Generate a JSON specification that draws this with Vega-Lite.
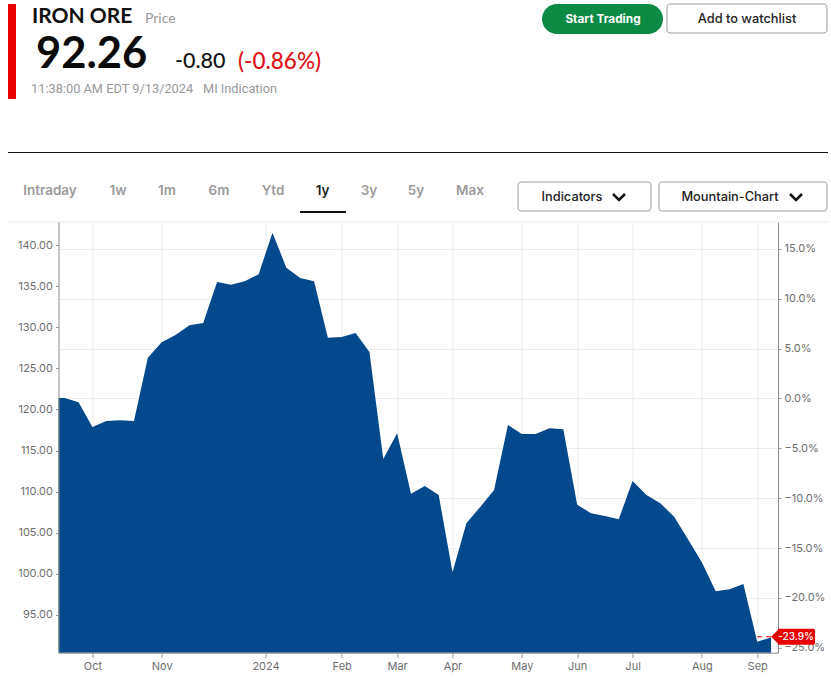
{
  "$schema": "https://vega.github.io/schema/vega-lite/v6.json",
  "description": "Iron ore one year mountain chart with quote header",
  "background": "white",
  "width": 719.5,
  "height": 430.7,
  "autosize": "none",
  "padding": {"left": 58.5, "top": 222, "right": 53, "bottom": 42.3},
  "config": {"view": {"stroke": null}, "text": {"font": "Inter"}},
  "datasets": {
    "prices": [
      {"week": -0.45, "price": 121.39},
      {"week": 0, "price": 121.39},
      {"week": 1, "price": 120.86},
      {"week": 2, "price": 117.86},
      {"week": 3, "price": 118.59},
      {"week": 4, "price": 118.67},
      {"week": 5, "price": 118.59},
      {"week": 6, "price": 126.29},
      {"week": 7, "price": 128.16},
      {"week": 8, "price": 129.05},
      {"week": 9, "price": 130.23},
      {"week": 10, "price": 130.51},
      {"week": 11, "price": 135.5},
      {"week": 12, "price": 135.17},
      {"week": 13, "price": 135.58},
      {"week": 14, "price": 136.44},
      {"week": 15, "price": 141.5},
      {"week": 16, "price": 137.24},
      {"week": 17, "price": 135.99},
      {"week": 18, "price": 135.58},
      {"week": 19, "price": 128.72},
      {"week": 20, "price": 128.81},
      {"week": 21, "price": 129.29},
      {"week": 22, "price": 126.98},
      {"week": 23, "price": 113.97},
      {"week": 24, "price": 117.09},
      {"week": 25, "price": 109.74},
      {"week": 26, "price": 110.68},
      {"week": 27, "price": 109.59},
      {"week": 28, "price": 100.19},
      {"week": 29, "price": 106.14},
      {"week": 30, "price": 108.13},
      {"week": 31, "price": 110.19},
      {"week": 32, "price": 118.1},
      {"week": 33, "price": 117.01},
      {"week": 34, "price": 117.01},
      {"week": 35, "price": 117.7},
      {"week": 36, "price": 117.58},
      {"week": 37, "price": 108.41},
      {"week": 38, "price": 107.36},
      {"week": 39, "price": 107.03},
      {"week": 40, "price": 106.63},
      {"week": 41, "price": 111.29},
      {"week": 42, "price": 109.59},
      {"week": 43, "price": 108.58},
      {"week": 44, "price": 106.95},
      {"week": 45, "price": 104.2},
      {"week": 46, "price": 101.4},
      {"week": 47, "price": 97.88},
      {"week": 48, "price": 98.12},
      {"week": 49, "price": 98.76},
      {"week": 50, "price": 91.74},
      {"week": 51, "price": 92.26}
    ],
    "current": [{"week": 50, "end": 51, "pct": -23.9, "label": "-23.9%"}]
  },
  "layer": [
    {
      "data": {"name": "current"},
      "mark": {"type": "rule", "color": "#e60000", "strokeWidth": 1, "strokeDash": [5, 4]},
      "encoding": {
        "x": {
          "field": "week",
          "type": "quantitative",
          "scale": {"domain": [-0.45, 51.5], "nice": false, "zero": false},
          "axis": {
            "title": null,
            "orient": "bottom",
            "values": [2, 7, 14.5, 20, 24, 28, 33, 37, 41, 46, 50],
            "labelExpr": "{'2':'Oct','7':'Nov','14.5':'2024','20':'Feb','24':'Mar','28':'Apr','33':'May','37':'Jun','41':'Jul','46':'Aug','50':'Sep'}[datum.value]",
            "grid": true,
            "gridColor": "#ececec",
            "domain": false,
            "tickColor": "#999999",
            "tickSize": 5,
            "labelFont": "Inter",
            "labelFontSize": 11,
            "labelColor": "#6e6e6e",
            "labelPadding": 3
          }
        },
        "x2": {"field": "end"},
        "y": {
          "field": "pct",
          "type": "quantitative",
          "scale": {"domain": [-25.5, 17.7], "nice": false, "zero": false},
          "axis": {
            "title": null,
            "orient": "right",
            "values": [-25, -20, -15, -10, -5, 0, 5, 10, 15],
            "labelExpr": "format(datum.value, '.1f') + '%'",
            "grid": true,
            "gridColor": "#ececec",
            "domain": false,
            "tickColor": "#999999",
            "tickSize": 3,
            "labelFont": "Inter",
            "labelFontSize": 11,
            "labelColor": "#6e6e6e",
            "labelPadding": 3
          }
        }
      }
    },
    {
      "data": {"name": "prices"},
      "mark": {"type": "area", "color": "#03498b", "interpolate": "linear"},
      "encoding": {
        "x": {
          "field": "week",
          "type": "quantitative",
          "scale": {"domain": [-0.45, 51.5], "nice": false, "zero": false},
          "axis": {
            "title": null,
            "orient": "top",
            "offset": -430.7,
            "labels": false,
            "ticks": false,
            "grid": false,
            "domain": true,
            "domainColor": "#8a8a8a",
            "zindex": 1
          }
        },
        "y": {
          "field": "price",
          "type": "quantitative",
          "scale": {"domain": [90.4, 142.8], "nice": false, "zero": false},
          "axis": {
            "title": null,
            "orient": "left",
            "values": [95, 100, 105, 110, 115, 120, 125, 130, 135, 140],
            "format": ".2f",
            "grid": false,
            "domain": true,
            "domainColor": "#8a8a8a",
            "tickColor": "#999999",
            "tickSize": 3,
            "labelFont": "Inter",
            "labelFontSize": 11,
            "labelColor": "#6e6e6e",
            "labelPadding": 3,
            "zindex": 1
          }
        },
        "y2": {"datum": 90.4}
      }
    },
    {
      "data": {"name": "current"},
      "encoding": {
        "x": {
          "field": "end",
          "type": "quantitative",
          "scale": {"domain": [-0.45, 51.5], "nice": false, "zero": false},
          "axis": null
        },
        "y": {
          "field": "pct",
          "type": "quantitative",
          "scale": {"domain": [-25.5, 17.7], "nice": false, "zero": false},
          "axis": {
            "title": null,
            "orient": "right",
            "labels": false,
            "ticks": false,
            "grid": false,
            "domain": true,
            "domainColor": "#8a8a8a"
          }
        }
      },
      "layer": [
        {
          "mark": {
            "type": "point",
            "shape": "M0,0L0.3,-0.3L0.34,-0.36L1.95,-0.36L2,-0.3L2,0.3L1.95,0.36L0.34,0.36L0.3,0.3Z",
            "size": 1936,
            "filled": true,
            "opacity": 1,
            "color": "#e60000"
          }
        },
        {
          "mark": {"type": "text", "dx": 25, "color": "white", "fontSize": 10, "fontWeight": 500},
          "encoding": {"text": {"field": "label"}}
        }
      ]
    },
    {
      "encoding": {
        "x": {
          "field": "col",
          "type": "quantitative",
          "axis": null,
          "scale": {
            "nice": false,
            "zero": false,
            "domain": [0, 1, 2, 3, 4, 5, 6, 7, 8, 9, 10, 11, 12, 13, 14, 15, 16, 17, 18, 19, 20, 21, 22, 23, 24, 25, 26, 27, 28, 29, 30, 31, 32, 33],
            "range": [-50.5, -42.5, -27.5, -26.5, -22.5, -8.5, 59.5, 86.5, 108.5, 116.5, 144.5, 160.5, 179.5, 214.5, 241.5, 264, 287.5, 310.5, 357.5, 411.5, 459.5, 483.5, 513.5, 544.5, 560.5, 592.5, 600.5, 604.5, 608.5, 671.5, 688.5, 737.5, 768.5, 769.5]
          }
        },
        "y": {
          "field": "row",
          "type": "quantitative",
          "axis": null,
          "scale": {
            "nice": false,
            "zero": false,
            "domain": [0, 1, 2, 3, 4, 5, 6, 7, 8, 9, 10, 11, 12, 13, 14, 15],
            "range": [-218, -205, -203, -189, -188, -167, -160, -133, -123, -69.5, -40, -31, -25, -11, -10, 0]
          }
        }
      },
      "layer": [
        {
          "data": {"values": [{"item": "accent", "col": 0, "col2": 1, "row": 0, "row2": 8}]},
          "mark": {"type": "rect", "color": "#e60000"},
          "encoding": {"x2": {"field": "col2"}, "y2": {"field": "row2"}}
        },
        {
          "data": {"values": [{"item": "Start Trading", "col": 21, "col2": 27, "row": 0, "row2": 4}]},
          "mark": {"type": "rect", "color": "#0b8a45", "cornerRadius": 15},
          "encoding": {"x2": {"field": "col2"}, "y2": {"field": "row2"}}
        },
        {
          "data": {
            "values": [
              {"item": "Add to watchlist", "col": 28, "col2": 32, "row": 0, "row2": 3},
              {"item": "Indicators", "col": 20, "col2": 25, "row": 10, "row2": 13},
              {"item": "Mountain-Chart", "col": 26, "col2": 32, "row": 10, "row2": 13}
            ]
          },
          "mark": {"type": "rect", "fill": "white", "stroke": "#9a9a9a", "strokeWidth": 1, "cornerRadius": 3},
          "encoding": {"x2": {"field": "col2"}, "y2": {"field": "row2"}}
        },
        {
          "data": {"values": [{"item": "divider", "col": 0, "col2": 33, "row": 9}]},
          "mark": {"type": "rule", "color": "#111111", "strokeWidth": 1},
          "encoding": {"x2": {"field": "col2"}}
        },
        {
          "data": {"values": [{"item": "plot top", "col": 0, "col2": 33, "row": 15}]},
          "mark": {"type": "rule", "color": "#ececec", "strokeWidth": 1},
          "encoding": {"x2": {"field": "col2"}}
        },
        {
          "data": {"values": [{"item": "active tab", "col": 14, "col2": 16, "row": 14}]},
          "mark": {"type": "rule", "color": "#111111", "strokeWidth": 2},
          "encoding": {"x2": {"field": "col2"}}
        },
        {
          "data": {"values": [{"text": "IRON ORE", "col": 3, "row": 1}]},
          "mark": {"type": "text", "align": "left", "font": "Lato", "fontSize": 21, "fontWeight": 700, "color": "#111111"},
          "encoding": {"text": {"field": "text"}}
        },
        {
          "data": {"values": [{"text": "Price", "col": 7, "row": 2}]},
          "mark": {"type": "text", "align": "left", "font": "Lato", "fontSize": 14, "color": "#999999"},
          "encoding": {"text": {"field": "text"}}
        },
        {
          "data": {
            "values": [
              {"text": "11:38:00 AM EDT 9/13/2024", "col": 2, "row": 7},
              {"text": "MI Indication", "col": 10, "row": 7}
            ]
          },
          "mark": {"type": "text", "align": "left", "font": "Roboto", "fontSize": 12.8, "color": "#999999"},
          "encoding": {"text": {"field": "text"}}
        },
        {
          "data": {"values": [{"text": "92.26", "col": 4, "row": 5}]},
          "mark": {"type": "text", "align": "left", "font": "Lato", "fontSize": 43.5, "fontWeight": 700, "color": "#0a0a0a"},
          "encoding": {"text": {"field": "text"}}
        },
        {
          "data": {"values": [{"text": "-0.80", "col": 9, "row": 6}]},
          "mark": {"type": "text", "align": "left", "font": "Lato", "fontSize": 21.5, "fontWeight": 500, "color": "#111111"},
          "encoding": {"text": {"field": "text"}}
        },
        {
          "data": {"values": [{"text": "(-0.86%)", "col": 12, "row": 6}]},
          "mark": {"type": "text", "align": "left", "font": "Lato", "fontSize": 22.5, "fontWeight": 500, "color": "#e0101a"},
          "encoding": {"text": {"field": "text"}}
        },
        {
          "data": {
            "values": [
              {"text": "Intraday", "col": 5, "row": 11},
              {"text": "1w", "col": 6, "row": 11},
              {"text": "1m", "col": 8, "row": 11},
              {"text": "6m", "col": 11, "row": 11},
              {"text": "Ytd", "col": 13, "row": 11},
              {"text": "3y", "col": 17, "row": 11},
              {"text": "5y", "col": 18, "row": 11},
              {"text": "Max", "col": 19, "row": 11}
            ]
          },
          "mark": {"type": "text", "fontSize": 13.5, "fontWeight": 600, "color": "#9b9b9b"},
          "encoding": {"text": {"field": "text"}}
        },
        {
          "data": {"values": [{"text": "1y", "col": 15, "row": 11}]},
          "mark": {"type": "text", "fontSize": 13.5, "fontWeight": 600, "color": "#222222"},
          "encoding": {"text": {"field": "text"}}
        },
        {
          "data": {"values": [{"text": "Start Trading", "col": 23, "row": 2}]},
          "mark": {"type": "text", "fontSize": 11.8, "fontWeight": 700, "color": "white"},
          "encoding": {"text": {"field": "text"}}
        },
        {
          "data": {
            "values": [
              {"text": "Add to watchlist", "col": 30, "row": 2},
              {"text": "Indicators", "col": 22, "row": 12},
              {"text": "Mountain-Chart", "col": 29, "row": 12}
            ]
          },
          "mark": {"type": "text", "fontSize": 12.8, "fontWeight": 500, "color": "#222222"},
          "encoding": {"text": {"field": "text"}}
        },
        {
          "data": {"values": [{"item": "Indicators", "col": 24, "row": 12}, {"item": "Mountain-Chart", "col": 31, "row": 12}]},
          "mark": {
            "type": "point",
            "shape": "M-1,-0.5L0,0.5L1,-0.5",
            "size": 144,
            "filled": false,
            "opacity": 1,
            "color": "#111111",
            "strokeWidth": 2.5
          }
        }
      ]
    }
  ],
  "resolve": {"scale": {"x": "independent", "y": "independent"}}
}
